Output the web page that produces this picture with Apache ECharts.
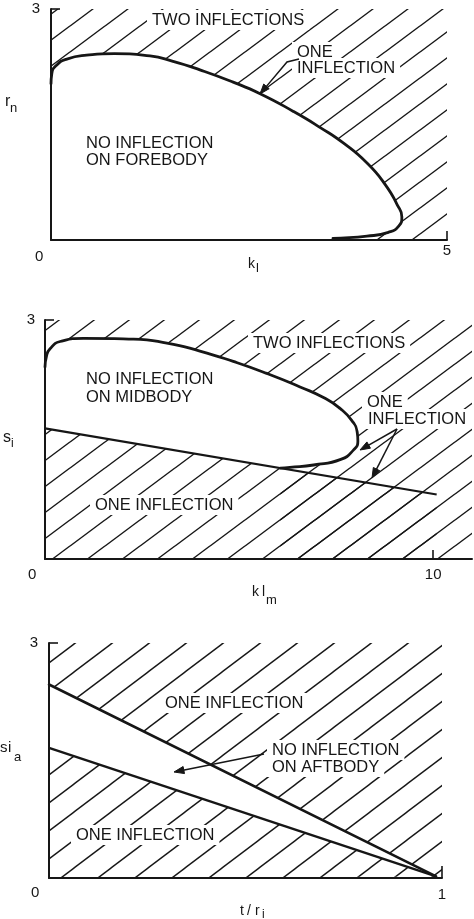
<!DOCTYPE html>
<html><head><meta charset="utf-8">
<style>html,body{margin:0;padding:0;background:#fff}#c{width:474px;height:919px}</style>
<script src="https://cdn.jsdelivr.net/npm/echarts@6/dist/echarts.min.js"></script>
</head><body><div id="c"></div>
<script>
// ---------------- data ----------------
// Panel 1: forebody, boundary of "no inflection" region (k_l, r_n)
const forebodyBoundary = [
  [0,2.03],[0.01,2.16],[0.07,2.27],[0.20,2.35],[0.45,2.40],[0.80,2.42],[1.25,2.39],[1.54,2.32],
  [1.88,2.21],[2.30,2.05],[2.64,1.90],[3.06,1.67],[3.40,1.46],[3.69,1.26],[3.99,1.00],
  [4.22,0.72],[4.37,0.46],[4.43,0.30],[4.39,0.18],[4.26,0.10],[3.99,0.05],[3.56,0.02]
];
// Panel 2: midbody (k l_m, s_i)
const midbodyBoundary = [
  [0,2.41],[0.04,2.55],[0.13,2.64],[0.39,2.73],[0.99,2.77],[2.28,2.76],[3.14,2.71],[3.99,2.61],
  [4.85,2.48],[5.71,2.33],[6.57,2.16],[7.20,2.02],[7.60,1.89],[7.90,1.74],[8.04,1.60],
  [8.06,1.48],[7.95,1.37],[7.62,1.25],[6.92,1.18],[6.31,1.15],[6.06,1.14]
];
const midbodyLowerLine = [[0,1.64],[10.09,0.81]];
// Panel 3: aftbody (t/r_i, s_ia)
const aftbodyUpperLine = [[0,2.47],[0.985,0.02]];
const aftbodyLowerLine = [[0,1.66],[0.985,0.02]];
// axes
const panelXMax = [5, 11, 1];
const panelYMax = 3;
const xTickLabels = [[5],[10],[1]];
const yTickLabels = [3];

// ---------------- styles ----------------
const INK = '#161616';
const FONTNAME = '"Liberation Sans", Arial, sans-serif';
function hatch(w, h, lw) {
  const c = document.createElement('canvas');
  c.width = w; c.height = h;
  const g = c.getContext('2d');
  g.strokeStyle = INK; g.lineWidth = lw;
  for (const o of [-w, 0, w]) {
    g.beginPath();
    g.moveTo(o - w * 0.3, h * 1.3);
    g.lineTo(o + w * 1.3, -h * 0.3);
    g.stroke();
  }
  return { image: c, repeat: 'repeat' };
}
const hatchA = hatch(35, 26, 1.4);
const hatchB = hatch(37, 28, 1.4);
const panelHatch = [hatchA, hatchA, hatchB];

const grids = [
  { left: 51, top: 9, width: 396, height: 231 },
  { left: 45, top: 320, width: 427, height: 239 },
  { left: 49, top: 643, width: 393, height: 235 }
];
const xLabelMargin = [3, 8, 9];
const yLabelMargin = [11, 10, 11];

const xAxis = grids.map((g, i) => ({
  gridIndex: i, type: 'value', min: 0, max: panelXMax[i], interval: xTickLabels[i][0], z: 10,
  axisLine: { show: true, onZero: false, lineStyle: { color: INK, width: 2 } },
  axisTick: { show: true, inside: true, length: i === 2 ? 12 : 9, customValues: xTickLabels[i],
              lineStyle: { color: INK, width: 1.6 } },
  axisLabel: { show: true, customValues: xTickLabels[i], margin: xLabelMargin[i], color: INK,
               fontSize: 15, fontFamily: FONTNAME,
               formatter: v => (xTickLabels[i].indexOf(v) >= 0 ? String(v) : '') },
  splitLine: { show: false }
}));
const yAxis = grids.map((g, i) => ({
  gridIndex: i, type: 'value', min: 0, max: panelYMax, interval: 3, z: 10,
  axisLine: { show: true, onZero: false, lineStyle: { color: INK, width: 2 } },
  axisTick: { show: true, inside: true, length: 9, customValues: yTickLabels,
              lineStyle: { color: INK, width: 1.6 } },
  axisLabel: { show: true, customValues: yTickLabels, margin: yLabelMargin[i], color: INK,
               fontSize: 15, fontFamily: FONTNAME,
               formatter: v => (yTickLabels.indexOf(v) >= 0 ? String(v) : '') },
  splitLine: { show: false }
}));

function base(i, z) {
  return { type: 'line', xAxisIndex: i, yAxisIndex: i, symbol: 'none', silent: true,
           animation: false, z: z };
}
function hatchField(i) {
  return Object.assign(base(i, 1), {
    data: [[0, panelYMax], [panelXMax[i], panelYMax]],
    lineStyle: { width: 0, opacity: 0 },
    areaStyle: { color: panelHatch[i], opacity: 1 }
  });
}
function whiteUnder(i, data, smooth) {
  return Object.assign(base(i, 2), {
    data: data, smooth: smooth,
    lineStyle: { width: 0, opacity: 0 },
    areaStyle: { color: '#ffffff', opacity: 1 }
  });
}
function hatchedUnder(i, data, w) {
  return Object.assign(base(i, 3), {
    data: data,
    lineStyle: { width: w, color: INK },
    areaStyle: { color: panelHatch[i], opacity: 1 }
  });
}
function stroke(i, data, smooth, w) {
  return Object.assign(base(i, 4), {
    data: data, smooth: smooth,
    lineStyle: { width: w, color: INK, cap: 'round', join: 'round' }
  });
}
const SM = 0.55;
const series = [
  hatchField(0), whiteUnder(0, forebodyBoundary, SM), stroke(0, forebodyBoundary, SM, 2.8),
  hatchField(1), whiteUnder(1, midbodyBoundary, SM), hatchedUnder(1, midbodyLowerLine, 2.2),
  stroke(1, midbodyBoundary, SM, 2.8),
  hatchField(2), whiteUnder(2, aftbodyUpperLine, 0), hatchedUnder(2, aftbodyLowerLine, 2.4),
  stroke(2, aftbodyUpperLine, 0, 2.6)
];

// ---------------- annotations ----------------
const mctx = document.createElement('canvas').getContext('2d');
function textWidth(t, size) { mctx.font = size + 'px ' + FONTNAME; return mctx.measureText(t).width; }
function T(x, y, text, size, bg) {
  const out = [{ type: 'text', x: x, y: y, z: 100, silent: true,
    style: { text: text, font: size + 'px ' + FONTNAME, fill: INK,
             align: 'left', verticalAlign: 'middle', textAlign: 'left', textVerticalAlign: 'middle' } }];
  if (bg) {
    out.unshift({ type: 'rect', z: 99, silent: true,
      shape: { x: x - 5, y: y - 10, width: textWidth(text, size) + 10, height: 20 },
      style: { fill: '#ffffff' } });
  }
  return out;
}
function arrow(pts) {
  const n = pts.length, tip = pts[n - 1], prev = pts[n - 2];
  const dx = tip[0] - prev[0], dy = tip[1] - prev[1], L = Math.hypot(dx, dy);
  const ux = dx / L, uy = dy / L, hl = 10, hw = 3.6;
  const bx = tip[0] - ux * hl, by = tip[1] - uy * hl;
  const shaft = pts.slice(0, n - 1).concat([[bx + ux * 2, by + uy * 2]]);
  return [
    { type: 'polyline', z: 101, silent: true, shape: { points: shaft },
      style: { stroke: INK, lineWidth: 1.5, fill: null } },
    { type: 'polygon', z: 101, silent: true,
      shape: { points: [tip, [bx - uy * hw, by + ux * hw], [bx + uy * hw, by - ux * hw]] },
      style: { fill: INK, stroke: INK, lineWidth: 1 } }
  ];
}
const S = 16.5;
const graphic = [].concat(
  // panel 1
  T(152, 20, 'TWO INFLECTIONS', S, true),
  T(297, 52, 'ONE', S, true), T(297, 68, 'INFLECTION', S, true),
  T(86, 143, 'NO INFLECTION', S), T(86, 160, 'ON FOREBODY', S),
  T(35, 257, '0', 15),
  T(5, 102, 'r', 16), T(10, 108, 'n', 13),
  T(248, 264, 'k', 14), T(256, 268, 'l', 13),
  // panel 2
  T(253, 343, 'TWO INFLECTIONS', S, true),
  T(86, 379, 'NO INFLECTION', S), T(86, 397, 'ON MIDBODY', S),
  T(367, 402, 'ONE', S, true), T(368, 419, 'INFLECTION', S, true),
  T(95, 505, 'ONE INFLECTION', S, true),
  T(28, 575, '0', 15),
  T(3, 438, 's', 16), T(11, 444, 'i', 12),
  T(252, 592, 'k', 14), T(262, 592, 'l', 14), T(266, 600, 'm', 13),
  // panel 3
  T(165, 703, 'ONE INFLECTION', S, true),
  T(272, 750, 'NO INFLECTION', S, true), T(272, 767, 'ON AFTBODY', S, true),
  T(76, 835, 'ONE INFLECTION', S, true),
  T(31, 893, '0', 15),
  T(0, 748, 's', 15), T(8, 748, 'i', 15), T(14, 757, 'a', 13),
  T(240, 911, 't', 14), T(247, 911, '/', 14), T(255, 911, 'r', 14), T(262, 915, 'i', 12),
  arrow([[299, 59], [287, 62], [260, 94]]),
  arrow([[397, 429], [360, 450]]),
  arrow([[397, 429], [372, 478]]),
  arrow([[264, 754], [174, 772]])
);

const chart = echarts.init(document.getElementById('c'), null, { renderer: 'canvas' });
chart.setOption({
  animation: false,
  backgroundColor: '#ffffff',
  grid: grids.map(g => Object.assign({ containLabel: false }, g)),
  xAxis: xAxis, yAxis: yAxis, series: series, graphic: graphic
});
</script></body></html>
